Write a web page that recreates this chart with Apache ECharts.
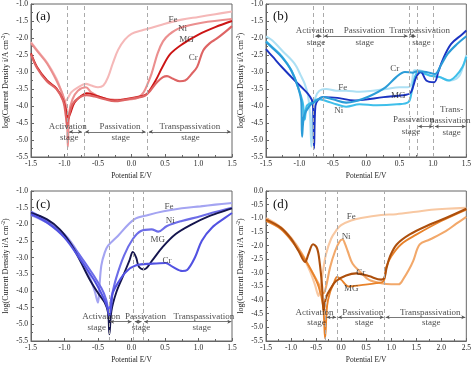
<!DOCTYPE html>
<html><head><meta charset="utf-8">
<script src="https://cdn.jsdelivr.net/npm/echarts@6/dist/echarts.min.js"></script>
<style>html,body{margin:0;background:#fff}#c{width:474px;height:365px}</style>
</head><body><div id="c"></div>
<script>
// ---------- DATA (Potential E/V, log current density) ----------
const aFe = [[-1.5,-2.12],[-1.4,-2.38],[-1.26,-2.72],[-1.12,-3.2],[-1.04,-3.6],[-0.99,-3.85],[-0.96,-3.8],[-0.9,-3.6],[-0.8,-3.45],[-0.68,-3.35],[-0.6,-3.4],[-0.5,-3.45],[-0.42,-3.4],[-0.35,-3.15],[-0.28,-2.75],[-0.2,-2.35],[-0.1,-2.05],[0.0,-1.88],[0.15,-1.78],[0.3,-1.7],[0.5,-1.58],[0.75,-1.46],[1.0,-1.38],[1.25,-1.3],[1.5,-1.22]];
const aNi = [[-1.5,-2.15],[-1.4,-2.4],[-1.26,-2.75],[-1.12,-3.25],[-1.02,-3.7],[-0.97,-4.1],[-0.95,-5.2],[-0.93,-4.2],[-0.88,-3.8],[-0.8,-3.55],[-0.68,-3.45],[-0.6,-3.6],[-0.45,-3.75],[-0.25,-3.82],[0.0,-3.8],[0.1,-3.75],[0.18,-3.6],[0.24,-3.35],[0.3,-3.05],[0.39,-2.45],[0.47,-2.1],[0.56,-1.9],[0.73,-1.7],[1.05,-1.55],[1.5,-1.44]];
const aMG = [[-1.5,-2.45],[-1.41,-2.85],[-1.26,-3.25],[-1.12,-3.48],[-1.02,-3.82],[-0.97,-4.2],[-0.95,-4.4],[-0.92,-4.25],[-0.85,-3.9],[-0.75,-3.7],[-0.67,-3.62],[-0.55,-3.68],[-0.4,-3.78],[-0.25,-3.84],[-0.1,-3.8],[0.07,-3.74],[0.2,-3.68],[0.25,-3.6],[0.36,-3.25],[0.46,-2.86],[0.58,-2.47],[0.76,-2.18],[1.0,-1.9],[1.25,-1.68],[1.5,-1.5]];
const aCr = [[-1.5,-2.48],[-1.41,-2.88],[-1.26,-3.28],[-1.12,-3.5],[-1.02,-3.85],[-0.98,-4.3],[-0.96,-4.6],[-0.94,-4.35],[-0.88,-3.95],[-0.78,-3.75],[-0.67,-3.68],[-0.55,-3.72],[-0.4,-3.8],[-0.25,-3.86],[-0.1,-3.82],[0.07,-3.76],[0.2,-3.7],[0.28,-3.55],[0.38,-3.3],[0.47,-3.15],[0.53,-3.12],[0.62,-3.2],[0.72,-3.27],[0.8,-3.25],[0.9,-3.05],[0.98,-2.85],[1.07,-2.37],[1.17,-2.15],[1.27,-2.02],[1.4,-1.82],[1.5,-1.65]];

const bFe = [[-1.5,-1.95],[-1.4,-2.08],[-1.26,-2.37],[-1.07,-2.76],[-0.98,-3.1],[-0.92,-3.35],[-0.87,-3.7],[-0.84,-4.3],[-0.82,-5.2],[-0.8,-4.2],[-0.76,-3.75],[-0.7,-3.55],[-0.6,-3.5],[-0.45,-3.55],[-0.3,-3.55],[-0.1,-3.58],[0.1,-3.55],[0.3,-3.5],[0.5,-3.45],[0.62,-3.45],[0.68,-3.35],[0.72,-2.95],[0.8,-2.95],[0.95,-3.1],[1.1,-3.15],[1.25,-3.25],[1.38,-3.15],[1.45,-2.85],[1.5,-2.5]];
const bNi = [[-1.5,-2.1],[-1.4,-2.28],[-1.26,-2.55],[-1.12,-2.95],[-1.02,-3.45],[-0.95,-3.9],[-0.92,-4.4],[-0.89,-4.0],[-0.82,-3.9],[-0.72,-3.8],[-0.6,-3.85],[-0.45,-3.95],[-0.3,-4.02],[-0.1,-3.95],[0.16,-3.98],[0.46,-3.95],[0.63,-3.89],[0.68,-3.6],[0.73,-3.15],[0.78,-3.0],[0.95,-3.1],[1.1,-3.15],[1.24,-3.25],[1.35,-3.1],[1.44,-2.86],[1.5,-2.55]];
const bMG = [[-1.5,-2.33],[-1.4,-2.55],[-1.26,-2.86],[-1.07,-3.25],[-0.92,-3.54],[-0.85,-3.7],[-0.8,-3.9],[-0.78,-5.25],[-0.76,-4.0],[-0.72,-3.82],[-0.65,-3.74],[-0.43,-3.76],[-0.18,-3.84],[-0.04,-3.82],[0.26,-3.74],[0.6,-3.67],[0.67,-3.6],[0.75,-3.15],[0.82,-3.0],[0.9,-3.25],[1.02,-3.3],[1.08,-3.0],[1.14,-2.67],[1.27,-2.18],[1.44,-1.89],[1.5,-1.78]];
const bCr = [[-1.5,-2.12],[-1.4,-2.3],[-1.26,-2.57],[-1.12,-2.96],[-1.02,-3.45],[-0.97,-3.9],[-0.96,-4.9],[-0.93,-4.3],[-0.85,-4.0],[-0.75,-3.85],[-0.65,-3.74],[-0.5,-3.8],[-0.3,-3.9],[-0.15,-3.85],[0.04,-3.72],[0.29,-3.45],[0.45,-3.15],[0.58,-3.0],[0.7,-3.02],[0.76,-2.98],[0.9,-3.0],[1.03,-3.06],[1.12,-2.8],[1.22,-2.47],[1.35,-2.2],[1.5,-1.95]];

const cFe = [[-1.5,-1.72],[-1.26,-1.95],[-1.0,-2.3],[-0.8,-2.85],[-0.65,-3.45],[-0.55,-4.0],[-0.5,-4.35],[-0.48,-3.9],[-0.45,-3.23],[-0.4,-2.85],[-0.35,-2.64],[-0.2,-2.34],[0.04,-1.85],[0.25,-1.72],[0.48,-1.61],[0.75,-1.52],[1.03,-1.46],[1.25,-1.41],[1.5,-1.36]];
const cNi = [[-1.5,-1.62],[-1.26,-1.9],[-0.99,-2.39],[-0.7,-3.13],[-0.45,-3.91],[-0.38,-4.25],[-0.34,-4.6],[-0.3,-4.2],[-0.23,-3.62],[-0.11,-2.93],[0.02,-2.44],[0.14,-2.2],[0.3,-2.15],[0.4,-2.22],[0.53,-2.05],[0.75,-1.9],[1.03,-1.76],[1.25,-1.63],[1.5,-1.5]];
const cMG = [[-1.5,-1.66],[-1.26,-1.85],[-1.07,-2.15],[-0.92,-2.54],[-0.77,-3.08],[-0.62,-3.67],[-0.5,-4.06],[-0.4,-4.35],[-0.35,-4.65],[-0.33,-5.3],[-0.3,-4.6],[-0.23,-4.06],[-0.13,-3.57],[-0.03,-3.08],[0.02,-2.83],[0.07,-3.0],[0.11,-3.27],[0.19,-3.35],[0.31,-3.08],[0.46,-2.69],[0.66,-2.29],[0.9,-2.0],[1.15,-1.76],[1.44,-1.56],[1.5,-1.52]];
const cCr = [[-1.5,-1.7],[-1.26,-1.95],[-1.0,-2.4],[-0.75,-3.1],[-0.55,-3.7],[-0.42,-4.2],[-0.36,-4.5],[-0.33,-4.75],[-0.3,-4.4],[-0.28,-4.06],[-0.2,-3.75],[-0.08,-3.42],[0.07,-3.23],[0.31,-3.18],[0.51,-3.16],[0.61,-3.27],[0.76,-3.4],[0.83,-3.37],[0.95,-2.98],[1.05,-2.49],[1.2,-2.1],[1.4,-1.8],[1.5,-1.66]];

const dFe = [[-1.5,-1.0],[-1.3,-1.2],[-1.1,-1.5],[-0.9,-1.95],[-0.75,-2.45],[-0.62,-2.95],[-0.52,-3.45],[-0.45,-3.85],[-0.41,-3.5],[-0.35,-2.8],[-0.3,-2.3],[-0.2,-1.75],[-0.1,-1.45],[0.0,-1.25],[0.2,-1.08],[0.4,-0.99],[0.8,-0.88],[1.1,-0.85],[1.5,-0.76],[1.8,-0.69],[2.1,-0.65],[2.5,-0.62]];
const dNi = [[-1.5,-1.02],[-1.2,-1.35],[-1.0,-1.75],[-0.8,-2.25],[-0.6,-2.9],[-0.45,-3.4],[-0.35,-3.75],[-0.3,-3.5],[-0.22,-2.8],[-0.12,-2.2],[-0.03,-1.85],[0.03,-1.78],[0.08,-1.95],[0.13,-2.2],[0.23,-2.67],[0.39,-2.98],[0.55,-3.25],[0.8,-3.38],[1.0,-3.42],[1.15,-3.42],[1.25,-3.2],[1.35,-2.9],[1.44,-2.56],[1.57,-1.96],[1.77,-1.78],[2.09,-1.47],[2.3,-1.2],[2.5,-0.95]];
const dMG = [[-1.5,-1.1],[-1.2,-1.4],[-1.0,-1.8],[-0.8,-2.3],[-0.6,-2.9],[-0.45,-3.5],[-0.36,-4.2],[-0.32,-5.4],[-0.28,-4.2],[-0.22,-3.7],[-0.15,-3.4],[-0.08,-3.15],[0.0,-3.25],[0.15,-3.5],[0.4,-3.45],[0.7,-3.38],[0.85,-3.3],[0.9,-2.8],[1.0,-2.4],[1.2,-1.95],[1.5,-1.6],[2.0,-1.1],[2.5,-0.68]];
const dCr = [[-1.5,-1.05],[-1.2,-1.35],[-1.0,-1.75],[-0.85,-2.2],[-0.72,-2.6],[-0.65,-2.3],[-0.56,-1.95],[-0.48,-2.1],[-0.43,-2.6],[-0.38,-3.5],[-0.35,-4.4],[-0.3,-3.9],[-0.2,-3.55],[-0.1,-3.3],[0.1,-3.1],[0.3,-3.02],[0.55,-3.12],[0.8,-3.25],[0.86,-3.2],[0.91,-2.8],[0.98,-2.38],[1.11,-1.96],[1.37,-1.59],[1.77,-1.23],[2.09,-0.99],[2.5,-0.65]];

const seriesNames = ['Fe','Ni','MG','Cr'];
const aColors = ['#f5b8b8','#eb8f8f','#cc1414','#de6464'];
const bColors = ['#ade0f4','#3fbfea','#1b33c2','#2b9cd8'];
const cColors = ['#a4a4f2','#6c6ce8','#15154e','#5252e2'];
const dColors = ['#f8c8a2','#f2a86a','#e8822a','#ad4f0c'];

const aDash = [-0.96,-0.71,0.24];
const bDash = [-0.79,-0.65,0.64,0.76,1.01];
const cDash = [-0.33,0.03,0.17];
const dDash = [-0.31,-0.08,0.87];

const aStage = [['Activation',-0.95,-4.62],['stage',-0.93,-4.92],['Passivation',-0.17,-4.62],['stage',-0.16,-4.92],['Transpassivation',0.87,-4.62],['stage',0.88,-4.92]];
const bStage = [['Activation',-0.77,-1.79],['stage',-0.75,-2.13],['Passivation',-0.03,-1.79],['stage',-0.02,-2.13],['Transpassivation',0.8,-1.79],['stage',0.83,-2.13],['Passivation',0.71,-4.4],['stage',0.67,-4.76],['Trans-',1.28,-4.11],['passivation',1.26,-4.43],['stage',1.28,-4.77]];
const cStage = [['Activation',-0.45,-4.77],['stage',-0.52,-5.09],['Passivation',0.21,-4.77],['stage',0.14,-5.09],['Transpassivation',1.08,-4.77],['stage',1.05,-5.09]];
const dStage = [['Activation',-0.53,-4.45],['stage',-0.49,-4.84],['Passivation',0.43,-4.45],['stage',0.46,-4.84],['Transpassivation',1.78,-4.45],['stage',1.8,-4.84]];

const aArrows = [[-0.93,-0.74,-4.76],[-0.69,0.21,-4.76],[0.26,1.48,-4.76]];
const bArrows = [[-0.76,-0.67,-1.94],[-0.63,0.62,-1.94],[0.66,0.74,-1.94],[0.78,1.0,-4.6],[1.03,1.49,-4.6]];
const cArrows = [[-0.32,0.0,-4.92],[0.05,0.15,-4.92],[0.19,1.49,-4.92]];
const dArrows = [[-0.29,-0.1,-4.63],[-0.06,0.85,-4.63],[0.89,2.48,-4.63]];

const aLabels = [['Fe',0.62,-1.45],['Ni',0.76,-1.72],['MG',0.82,-2.06],['Cr',0.92,-2.59]];
const bLabels = [['Fe',-0.35,-3.47],['Ni',-0.41,-4.15],['MG',0.48,-3.69],['Cr',0.43,-2.91]];
const cLabels = [['Fe',0.56,-1.46],['Ni',0.58,-1.9],['MG',0.39,-2.47],['Cr',0.53,-3.08]];
const dLabels = [['Fe',0.2,-0.93],['Ni',0.1,-1.67],['Cr',0.39,-3.0],['MG',0.2,-3.57]];

const panelTags = ['(a)','(b)','(c)','(d)'];
const xRanges = [[-1.5,1.5],[-1.5,1.5],[-1.5,1.5],[-1.5,2.5]];
const yRanges = [[-5.5,-1.0],[-5.5,-1.0],[-5.5,-1.0],[-5.5,0.0]];

// ---------- BUILD ----------
const FONT = 'Liberation Serif';
const panels = [
  {curves:[aFe,aNi,aMG,aCr], colors:aColors, dash:aDash, stage:aStage, arrows:aArrows, labels:aLabels},
  {curves:[bFe,bNi,bMG,bCr], colors:bColors, dash:bDash, stage:bStage, arrows:bArrows, labels:bLabels},
  {curves:[cFe,cNi,cMG,cCr], colors:cColors, dash:cDash, stage:cStage, arrows:cArrows, labels:cLabels},
  {curves:[dFe,dNi,dMG,dCr], colors:dColors, dash:dDash, stage:dStage, arrows:dArrows, labels:dLabels}
];
const grids = [
  {left:29, top:3, width:203, height:154},
  {left:266, top:3, width:203, height:154},
  {left:29, top:191, width:203, height:153},
  {left:266, top:191, width:203, height:152}
];
const xAxes = [], yAxes = [], series = [], titles = [];
const axisCol = '#666';
panels.forEach((p, i) => {
  xAxes.push({
    type:'value', gridIndex:i, min:xRanges[i][0], max:xRanges[i][1], interval:0.5,
    name:'Potential E/V', nameLocation:'middle', nameGap:15,
    nameTextStyle:{fontFamily:FONT, fontSize:7.5, color:'#222'},
    axisLine:{show:true, onZero:false, lineStyle:{color:axisCol}},
    axisTick:{inside:true, length:3, lineStyle:{color:axisCol}},
    minorTick:{show:true, splitNumber:2, length:2, lineStyle:{color:axisCol}},
    splitLine:{show:false},
    axisLabel:{fontFamily:FONT, fontSize:7.5, color:'#222', margin:3, formatter:v=>v.toFixed(1)}
  });
  yAxes.push({
    type:'value', gridIndex:i, min:yRanges[i][0], max:yRanges[i][1], interval:0.5,
    name:'log(Current Density i/A cm{s|-2})', nameLocation:'middle', nameGap:20,
    nameTextStyle:{fontFamily:FONT, fontSize:8, color:'#222', rich:{s:{fontFamily:FONT, fontSize:5.5, verticalAlign:'top', padding:[0,0,4,0]}}},
    axisLine:{show:true, onZero:false, lineStyle:{color:axisCol}},
    axisTick:{inside:true, length:3, lineStyle:{color:axisCol}},
    minorTick:{show:true, splitNumber:2, length:2, lineStyle:{color:axisCol}},
    splitLine:{show:false},
    axisLabel:{fontFamily:FONT, fontSize:7.5, color:'#222', margin:3, formatter:v=>v.toFixed(1)}
  });
  titles.push({text:panelTags[i], left:grids[i].left+2, top:grids[i].top+2,
    textStyle:{fontFamily:FONT, fontSize:13, fontWeight:'normal', color:'#111'}});
  series.push({
    type:'line', xAxisIndex:i, yAxisIndex:i, data:[], silent:true, z:1,
    markLine:{silent:true, symbol:'none', label:{show:false},
      lineStyle:{type:[4,3], color:'#aaa', width:1},
      data:p.dash.map(v=>({xAxis:v}))}
  });
  p.curves.forEach((c, k) => {
    series.push({
      type:'line', name:seriesNames[k], xAxisIndex:i, yAxisIndex:i, data:c,
      showSymbol:false, smooth:0.35, z:2,
      lineStyle:{color:p.colors[k], width:k===2?1.9:2.1},
      itemStyle:{color:p.colors[k]}
    });
  });
  series.push({
    type:'scatter', xAxisIndex:i, yAxisIndex:i, symbolSize:1, silent:true, z:5,
    itemStyle:{color:'rgba(0,0,0,0)'},
    data:p.stage.map(s=>({name:s[0], value:[s[1],s[2]]})),
    label:{show:true, position:'inside', formatter:d=>d.name, fontFamily:FONT, fontSize:9, color:'#222'},
    markLine:{silent:true, symbol:['arrow','arrow'], symbolSize:[3,4], label:{show:false},
      lineStyle:{type:'solid', color:'#555', width:0.8},
      data:p.arrows.map(a=>[{coord:[a[0],a[2]]},{coord:[a[1],a[2]]}])}
  });
  series.push({
    type:'scatter', xAxisIndex:i, yAxisIndex:i, symbolSize:1, silent:true, z:5,
    itemStyle:{color:'rgba(0,0,0,0)'},
    data:p.labels.map(s=>({name:s[0], value:[s[1],s[2]]})),
    label:{show:true, position:'inside', formatter:d=>d.name, fontFamily:FONT, fontSize:9, color:'#222'}
  });
});

const chart = echarts.init(document.getElementById('c'), null, {renderer:'canvas'});
chart.setOption({
  animation:false,
  backgroundColor:'#fff',
  title:titles,
  grid:grids.map(g=>Object.assign({show:true, borderColor:axisCol, borderWidth:1, backgroundColor:'transparent'}, g)),
  xAxis:xAxes, yAxis:yAxes, series:series
});
</script></body></html>
